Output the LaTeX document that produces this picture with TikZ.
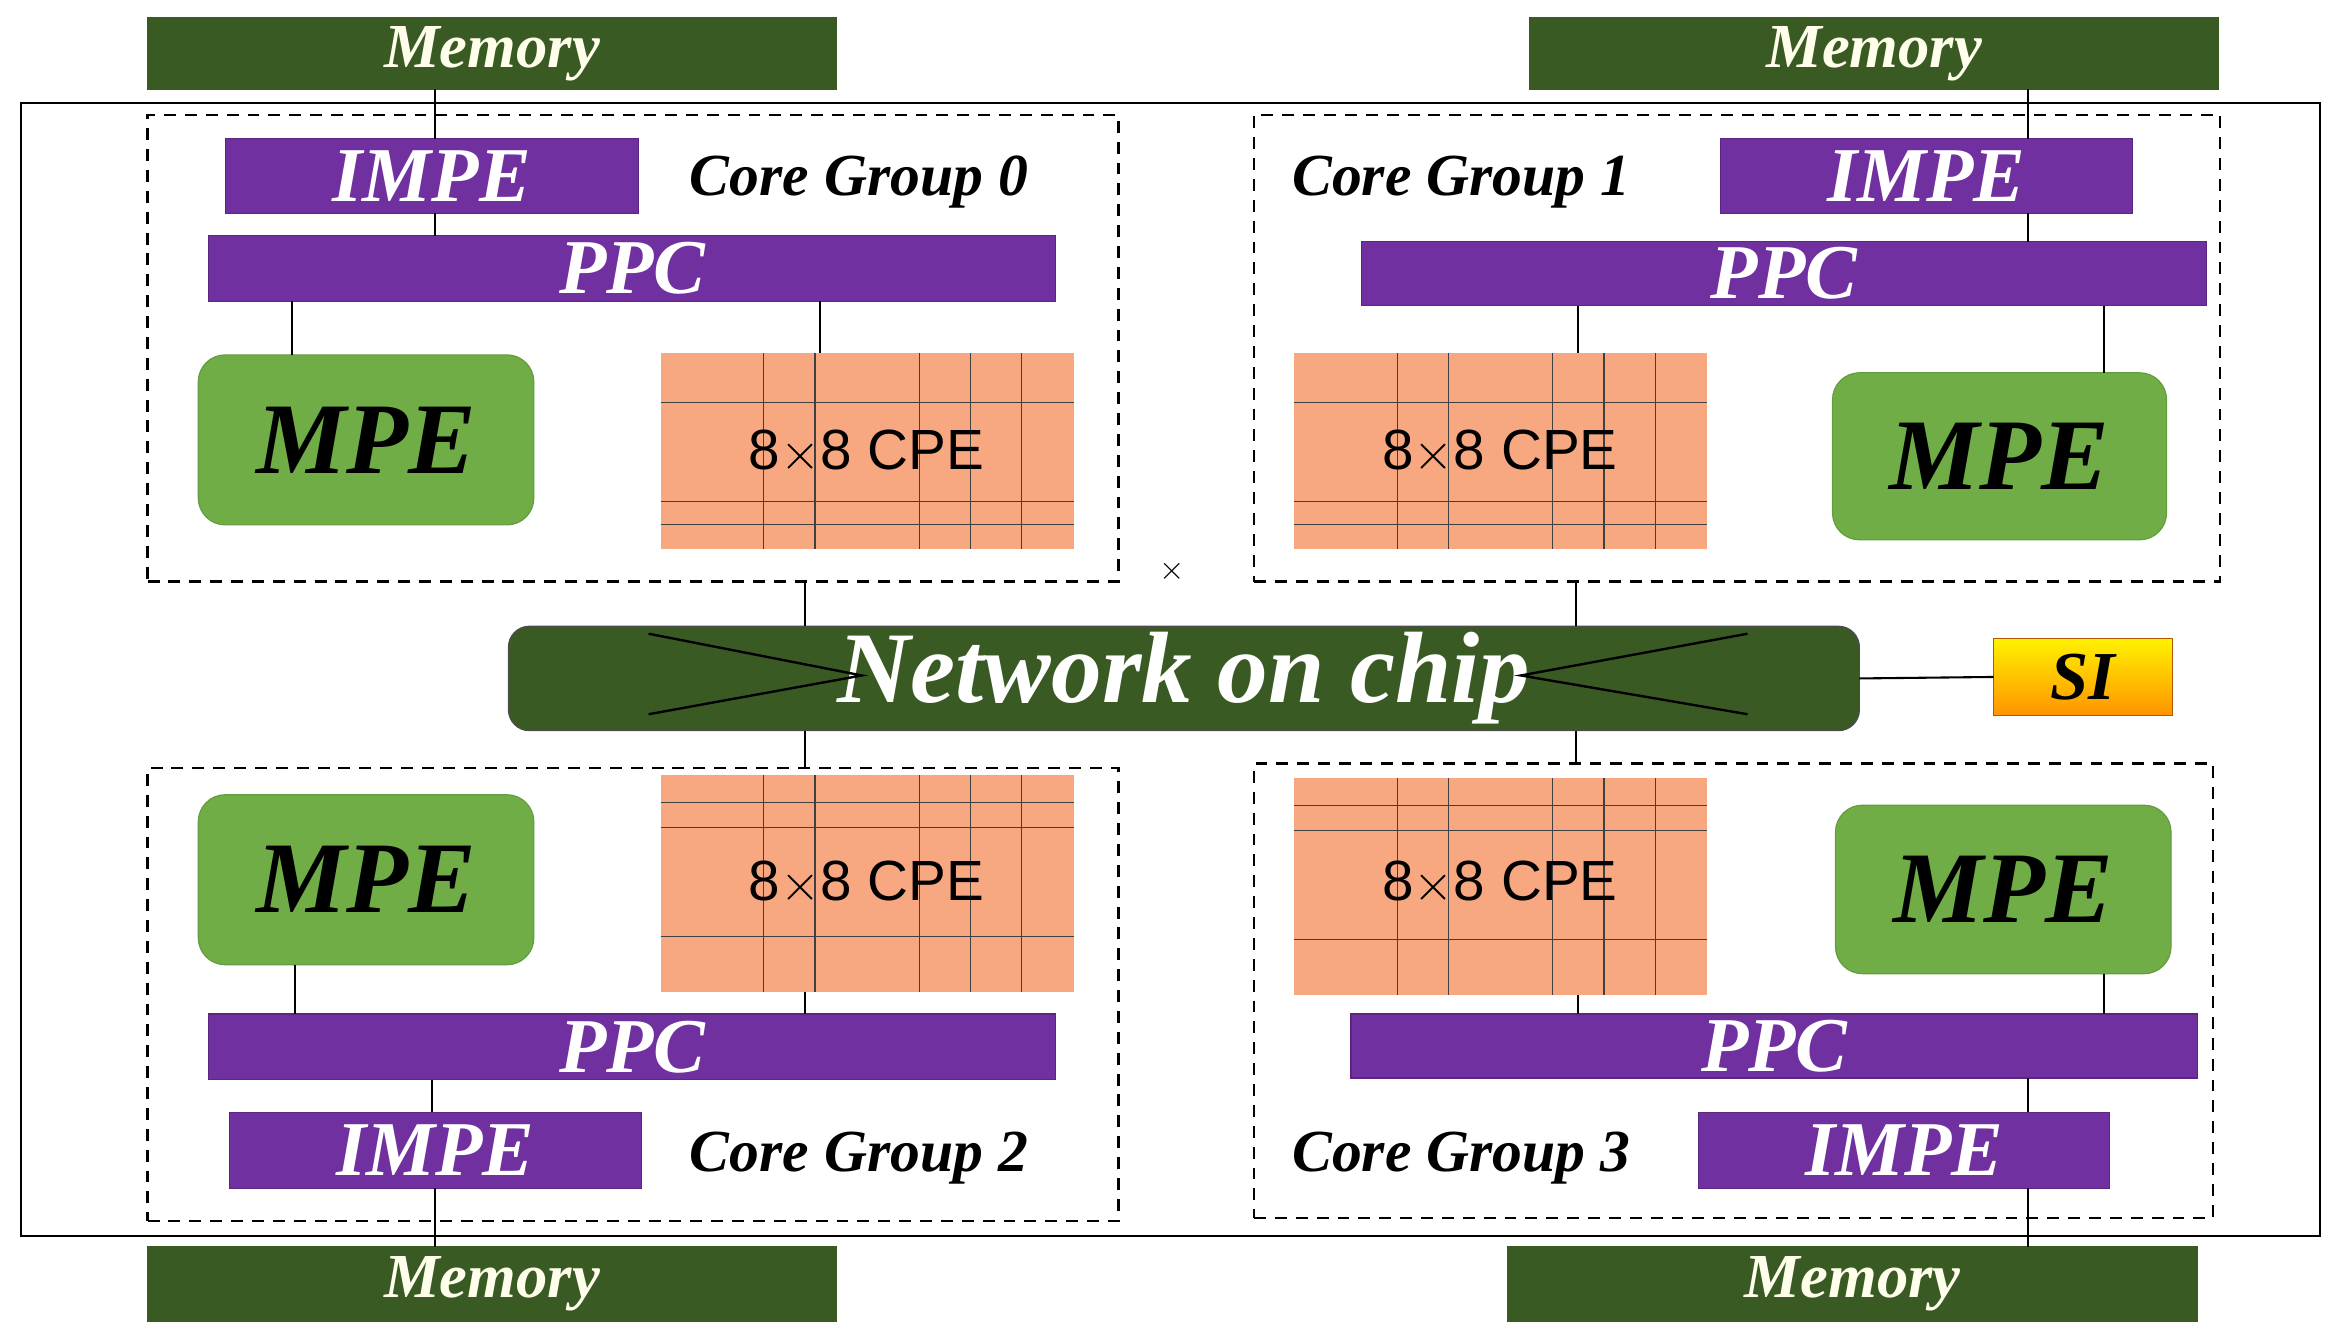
\documentclass[tikz,border=0pt]{standalone}
\usepackage{fontspec}
\setmainfont{Liberation Serif}
\newfontfamily\sansf{Liberation Sans}
\begin{document}
\definecolor{memg}{HTML}{3A5A24}
\definecolor{purp}{HTML}{7030A0}
\definecolor{mpeg}{HTML}{70AD47}
\definecolor{cpec}{HTML}{F8A880}
\definecolor{noc}{HTML}{3A5A24}
\newcommand\blk[7]{\node[#2,minimum width={(#5-#3)*0.5pt},minimum height={(#6-#4)*0.5pt}] (#1) at ({(#3+#5)/2},{(#4+#6)/2}) {#7};}
\newcommand\cpegrid[6]{%
  \foreach \f in {0.25,0.374,0.626,0.75,0.874}{\draw[gridl] ({#2+\f*(#4-#2)},#3) -- ({#2+\f*(#4-#2)},#5);}
  \foreach \f in {#6}{\draw[gridl] (#2,{#3+\f*(#5-#3)}) -- (#4,{#3+\f*(#5-#3)});}}
\begin{tikzpicture}[x=0.5pt,y=-0.5pt,inner sep=0pt,outer sep=0pt,
  mem/.style={fill=memg,draw=memg,text=white!92!yellow,font=\fontsize{21}{21}\selectfont\bfseries\itshape},
  pur/.style={fill=purp,draw=purp!80!black,text=white,font=\fontsize{26}{26}\selectfont\bfseries\itshape},
  mpe/.style={fill=mpeg,draw=mpeg!90!black,rounded corners=9pt,font=\fontsize{34}{34}\selectfont\bfseries\itshape},
  cpe/.style={fill=cpec,font=\fontsize{19}{19}\selectfont\sansf},
  gridl/.style={draw=black!75,line width=0.4pt},
  cg/.style={draw,dashed,line width=0.8pt,dash pattern=on 4pt off 3pt},
  lbl/.style={font=\fontsize{20}{20}\selectfont\bfseries\itshape},
  ln/.style={line width=0.7pt}]
\useasboundingbox (0,0) rectangle (1568,900);
\node[draw,line width=0.8pt,minimum width=771pt,minimum height=380pt] (chip) at (785,449) {};
% memories
\blk{memA}{mem}{99}{12}{561}{60}{Memory}
\blk{memB}{mem}{1026}{12}{1488}{60}{Memory}
\blk{memC}{mem}{99}{836}{561}{886}{Memory}
\blk{memD}{mem}{1011}{836}{1474}{886}{Memory}
% core group frames
\blk{cg0}{cg}{99}{77}{750}{390}{}
\blk{cg1}{cg}{841}{77}{1489}{390}{}
\blk{cg2}{cg}{99}{515}{750}{819}{}
\blk{cg3}{cg}{841}{512}{1484}{817}{}
\node[lbl] (l0) at (576,122) {Core Group 0};
\node[lbl] (l1) at (980,122) {Core Group 1};
\node[lbl] (l2) at (576,777) {Core Group 2};
\node[lbl] (l3) at (980,777) {Core Group 3};
% CG0
\blk{impe0}{pur}{151}{93}{428}{143}{IMPE}
\blk{ppc0}{pur}{140}{158}{708}{202}{PPC}
\blk{mpe0}{mpe}{133}{238}{358}{352}{MPE}
\blk{cpe0}{cpe}{443}{237}{720}{368}{}
\cpegrid{0}{443}{237}{720}{368}{0.253,0.76,0.876}
\node[font=\fontsize{19}{19}\selectfont\sansf] (t0) at (581,303) {8$\times$8 CPE};
% CG1
\blk{impe1}{pur}{1154}{93}{1430}{143}{IMPE}
\blk{ppc1}{pur}{913}{162}{1480}{205}{PPC}
\blk{mpe1}{mpe}{1229}{250}{1453}{362}{MPE}
\blk{cpe1}{cpe}{868}{237}{1145}{368}{}
\cpegrid{1}{868}{237}{1145}{368}{0.253,0.76,0.876}
\node[font=\fontsize{19}{19}\selectfont\sansf] (t1) at (1006,303) {8$\times$8 CPE};
% CG2
\blk{impe2}{pur}{154}{746}{430}{797}{IMPE}
\blk{ppc2}{pur}{140}{680}{708}{724}{PPC}
\blk{mpe2}{mpe}{133}{533}{358}{647}{MPE}
\blk{cpe2}{cpe}{443}{520}{720}{665}{}
\cpegrid{2}{443}{520}{720}{665}{0.124,0.24,0.747}
\node[font=\fontsize{19}{19}\selectfont\sansf] (t2) at (581,592) {8$\times$8 CPE};
% CG3
\blk{impe3}{pur}{1139}{746}{1415}{797}{IMPE}
\blk{ppc3}{pur}{906}{680}{1474}{723}{PPC}
\blk{mpe3}{mpe}{1231}{540}{1456}{653}{MPE}
\blk{cpe3}{cpe}{868}{522}{1145}{667}{}
\cpegrid{3}{868}{522}{1145}{667}{0.124,0.24,0.747}
\node[font=\fontsize{19}{19}\selectfont\sansf] (t3) at (1006,592) {8$\times$8 CPE};
% NoC and SI
\blk{noc}{fill=noc,draw=black!70,rounded corners=7pt,text=white,font=\fontsize{34}{34}\selectfont\bfseries\itshape}{341}{420}{1247}{490}{Network on chip}
\draw[line width=0.8pt] (435,425) -- (578,453) -- (435,479);
\draw[line width=0.8pt] (1172,425) -- (1020,453) -- (1172,479);
\blk{si}{top color=yellow!90!orange,bottom color=orange!85!yellow,draw=orange!70!black,text=black,font=\fontsize{23}{23}\selectfont\bfseries\itshape}{1337}{428}{1457}{480}{SI}
\node[font=\fontsize{11}{11}\selectfont] (x) at (786,383) {$\times$};
% connectors
\draw[ln] (noc.east) -- (si.west);
\draw[ln] (292,0 |- memA.south) -- (292,0 |- impe0.north);
\draw[ln] (292,0 |- impe0.south) -- (292,0 |- ppc0.north);
\draw[ln] (196,0 |- ppc0.south) -- (196,0 |- mpe0.north);
\draw[ln] (550,0 |- ppc0.south) -- (550,0 |- cpe0.north);
\draw[ln] (540,0 |- cg0.south) -- (540,0 |- noc.north);
\draw[ln] (1360,0 |- memB.south) -- (1360,0 |- impe1.north);
\draw[ln] (1360,0 |- impe1.south) -- (1360,0 |- ppc1.north);
\draw[ln] (1058,0 |- ppc1.south) -- (1058,0 |- cpe1.north);
\draw[ln] (1411,0 |- ppc1.south) -- (1411,0 |- mpe1.north);
\draw[ln] (1057,0 |- cg1.south) -- (1057,0 |- noc.north);
\draw[ln] (540,0 |- noc.south) -- (540,0 |- cg2.north);
\draw[ln] (1057,0 |- noc.south) -- (1057,0 |- cg3.north);
\draw[ln] (198,0 |- mpe2.south) -- (198,0 |- ppc2.north);
\draw[ln] (540,0 |- cpe2.south) -- (540,0 |- ppc2.north);
\draw[ln] (290,0 |- ppc2.south) -- (290,0 |- impe2.north);
\draw[ln] (292,0 |- impe2.south) -- (292,0 |- memC.north);
\draw[ln] (1058,0 |- cpe3.south) -- (1058,0 |- ppc3.north);
\draw[ln] (1411,0 |- mpe3.south) -- (1411,0 |- ppc3.north);
\draw[ln] (1360,0 |- ppc3.south) -- (1360,0 |- impe3.north);
\draw[ln] (1360,0 |- impe3.south) -- (1360,0 |- memD.north);
\end{tikzpicture}
\end{document}
